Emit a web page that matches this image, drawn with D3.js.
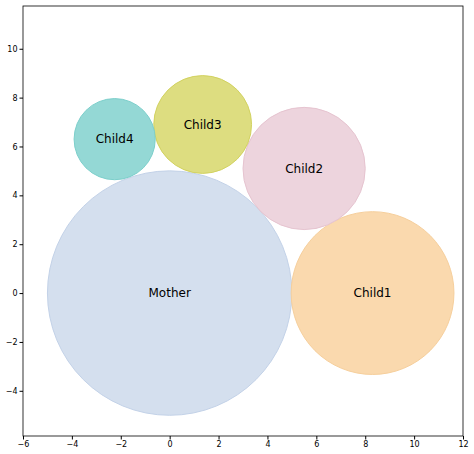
<!DOCTYPE html>
<html>
<head>
<meta charset="utf-8">
<script src="https://cdn.jsdelivr.net/npm/d3@7"></script>
<style>
body { margin: 0; background: #fff; }
text { font-family: "DejaVu Sans", sans-serif; }
</style>
</head>
<body>
<div id="chart"></div>
<script>
// circle data
let names = ['Mother', 'Child1', 'Child2', 'Child3', 'Child4'];
let cx = [0, 8.3, 5.5, 1.35, -2.25];
let cy = [0, 0, 5.1, 6.9, 6.3];
let radii = [5, 3.33, 2.5, 2.0, 1.66];
let fills = ['#d4dfee', '#fad9ae', '#edd4dd', '#dddd80', '#94d8d5'];
let strokes = ['#c3d2e8', '#f6cf9c', '#e6c4d0', '#d2d260', '#7ccfcb'];
let xTicks = [-6, -4, -2, 0, 2, 4, 6, 8, 10, 12];
let yTicks = [-4, -2, 0, 2, 4, 6, 8, 10];

let margin = {top: 6, right: 11, bottom: 18, left: 23};
let width = 474 - margin.left - margin.right;
let height = 454 - margin.top - margin.bottom;

let svg = d3.select('#chart').append('svg')
    .attr('width', 474)
    .attr('height', 454)
    .append('g')
    .attr('transform', 'translate(' + margin.left + ',' + margin.top + ')');

let x = d3.scaleLinear().domain([-6, 12]).range([0, width]);
let y = d3.scaleLinear().domain([-5.85, 11.75]).range([height, 0]);
let k = x(1) - x(0);

svg.selectAll('circle')
    .data(names)
    .enter().append('circle')
    .attr('cx', (d, i) => x(cx[i]))
    .attr('cy', (d, i) => y(cy[i]))
    .attr('r', (d, i) => radii[i] * k)
    .attr('fill', (d, i) => fills[i])
    .attr('stroke', (d, i) => strokes[i])
    .attr('stroke-width', 1);

svg.selectAll('.lbl')
    .data(names)
    .enter().append('text')
    .attr('class', 'lbl')
    .attr('x', (d, i) => x(cx[i]))
    .attr('y', (d, i) => y(cy[i]))
    .attr('text-anchor', 'middle')
    .attr('dy', '0.35em')
    .style('font-size', '12px')
    .text(d => d);

let xAxis = d3.axisBottom(x).tickValues(xTicks).tickSize(3.5).tickPadding(2)
    .tickFormat(d => d < 0 ? '\u2212' + Math.abs(d) : d);
let yAxis = d3.axisLeft(y).tickValues(yTicks).tickSize(3.5).tickPadding(2)
    .tickFormat(d => d < 0 ? '\u2212' + Math.abs(d) : d);

svg.append('g').attr('transform', `translate(0,${height})`).call(xAxis)
    .call(g => g.select('.domain').remove())
    .selectAll('text').style('font-size', '8px').attr('fill', '#000');
svg.append('g').call(yAxis)
    .call(g => g.select('.domain').remove())
    .selectAll('text').style('font-size', '8px').attr('fill', '#000');

svg.append('rect')
    .attr('width', width).attr('height', height)
    .attr('fill', 'none').attr('stroke', '#000').attr('stroke-width', 0.8);
</script>
</body>
</html>
